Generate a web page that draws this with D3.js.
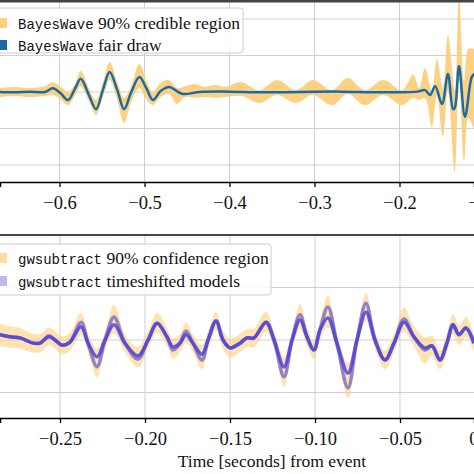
<!DOCTYPE html>
<html>
<head>
<meta charset="utf-8">
<script src="https://cdn.jsdelivr.net/npm/d3@7"></script>
<style>
  body { margin: 0; background: #fff; }
  svg { display: block; }
</style>
</head>
<body>
<svg width="474" height="474"></svg>
<script>
// Top panel: BayesWave reconstruction (time in seconds from event)
const bwTime = [-0.670, -0.652, -0.635, -0.617, -0.608, -0.599, -0.590, -0.582, -0.575, -0.566,
  -0.557, -0.549, -0.541, -0.532, -0.524, -0.516, -0.506, -0.498, -0.490, -0.481, -0.471,
  -0.456, -0.435, -0.399, -0.364, -0.317, -0.270, -0.223, -0.179, -0.170, -0.164, -0.158,
  -0.150, -0.143, -0.137, -0.135, -0.130, -0.123, -0.115, -0.112];
const bwDraw = [0, -0.01, 0.01, 0, 0.10, -0.03, -0.22, 0.08, 0.36, -0.05,
  -0.47, 0.05, 0.55, 0.05, -0.47, -0.03, 0.41, 0.11, -0.22, 0.03, 0.14,
  -0.05, 0, 0.01, -0.01, 0, 0.01, -0.01, 0.01, 0.05, -0.08, 0.16,
  -0.33, 0.49, -0.47, -0.44, 0.71, -0.68, 0.41, 0.49];

const bwBandTime = [-0.670, -0.652, -0.635, -0.617, -0.608, -0.599, -0.590, -0.582, -0.575, -0.566,
  -0.557, -0.549, -0.541, -0.532, -0.524, -0.516, -0.506, -0.498, -0.490, -0.481, -0.471,
  -0.462, -0.452, -0.441, -0.429, -0.417, -0.405, -0.386, -0.365, -0.344, -0.322, -0.302,
  -0.279, -0.261, -0.241, -0.219, -0.197, -0.184, -0.177, -0.170, -0.162, -0.156, -0.149,
  -0.143, -0.135, -0.130, -0.124, -0.119, -0.112];
const bwBandHi = [0.11, 0.14, 0.11, 0.16, 0.27, 0.16, 0.00, 0.22, 0.58, 0.14,
  -0.22, 0.25, 0.82, 0.27, -0.16, 0.16, 0.77, 0.33, 0.00, 0.25, 0.33,
  0.11, 0.16, 0.22, 0.14, 0.19, 0.14, 0.27, 0.05, 0.33, 0.05, 0.33,
  0.05, 0.38, 0.05, 0.33, 0.05, 0.47, 0.11, 0.66, 0.05, 0.90, 0.11,
  1.56, 0.05, 2.66, 0.33, 1.18, 1.18];
const bwBandLo = [-0.14, -0.11, -0.14, -0.11, -0.08, -0.19, -0.36, -0.11, 0.16, -0.22,
  -0.63, -0.14, 0.33, -0.22, -0.85, -0.30, 0.11, -0.19, -0.36, -0.14, -0.05,
  -0.33, -0.14, -0.16, -0.14, -0.16, -0.14, -0.11, -0.30, -0.08, -0.30, -0.08,
  -0.36, -0.05, -0.36, -0.08, -0.36, -0.16, -0.22, -0.16, -0.96, -0.08, -1.23,
  0.05, -2.19, 0.33, -1.89, -0.71, -1.04];

// Bottom panel: gwsubtract models
const gwTime = [-0.2853, -0.2794, -0.2735, -0.2659, -0.2618, -0.2565, -0.2529, -0.2488, -0.2441,
  -0.2376, -0.2335, -0.2282, -0.2235, -0.2182, -0.2118, -0.2041, -0.1982, -0.1929, -0.1871,
  -0.1835, -0.1794, -0.1759, -0.1718, -0.1665, -0.1629, -0.1582, -0.1541, -0.1500, -0.1441,
  -0.1400, -0.1359, -0.1288, -0.1241, -0.1182, -0.1135, -0.1088, -0.1047, -0.1006, -0.0971,
  -0.0924, -0.0871, -0.0806, -0.0753, -0.0700, -0.0647, -0.0588, -0.0535, -0.0476, -0.0418,
  -0.0353, -0.0312, -0.0265, -0.0224, -0.0188, -0.0153, -0.0112, -0.0065];
const gwModelA = [0.10, 0.06, 0.04, -0.06, -0.06, 0.06, 0, -0.10, -0.04,
  0.25, -0.06, -0.32, 0, 0.29, -0.06, -0.30, 0, 0.32, 0.06,
  -0.13, -0.06, 0.10, -0.06, -0.27, 0, 0.36, 0, -0.15, -0.06,
  0.04, 0.04, 0.34, 0, -0.51, 0, 0.38, 0.06, -0.19, 0.19,
  0.42, -0.06, -0.63, 0, 0.53, 0, -0.38, -0.06, 0.34, 0.06,
  -0.15, -0.11, -0.38, -0.06, 0.29, 0.10, 0.23, -0.06];
const gwModelB = [0.10, 0.06, 0.04, -0.06, -0.06, 0.08, 0, -0.10, -0.04,
  0.34, -0.06, -0.51, 0, 0.44, -0.06, -0.36, 0, 0.32, 0.06,
  -0.19, -0.06, 0.17, -0.06, -0.38, 0, 0.36, 0, -0.15, -0.06,
  0.04, 0.04, 0.34, 0, -0.70, 0, 0.48, 0.06, -0.19, 0.19,
  0.63, -0.06, -0.91, 0, 0.70, 0, -0.38, -0.06, 0.40, 0.06,
  -0.19, -0.11, -0.38, -0.06, 0.29, 0.10, 0.23, -0.06];
const gwBandHi = [0.31, 0.26, 0.23, 0.12, 0.11, 0.24, 0.17, 0.07, 0.14,
  0.52, 0.12, -0.16, 0.16, 0.67, 0.11, -0.13, 0.17, 0.52, 0.24,
  0.03, 0.11, 0.34, 0.11, -0.10, 0.17, 0.54, 0.17, 0.02, 0.12,
  0.21, 0.22, 0.54, 0.17, -0.33, 0.17, 0.68, 0.24, -0.02, 0.37,
  0.84, 0.11, -0.45, 0.17, 0.90, 0.17, -0.20, 0.12, 0.62, 0.26,
  0.05, 0.08, -0.20, 0.12, 0.50, 0.28, 0.44, 0.12];
const gwBandLo = [-0.12, -0.15, -0.16, -0.24, -0.24, -0.10, -0.16, -0.27, -0.20,
  0.09, -0.23, -0.71, -0.16, 0.12, -0.23, -0.52, -0.17, 0.14, -0.11,
  -0.36, -0.23, -0.06, -0.23, -0.56, -0.17, 0.18, -0.17, -0.33, -0.23,
  -0.13, -0.14, 0.15, -0.17, -0.90, -0.17, 0.20, -0.12, -0.36, 0.02,
  0.24, -0.23, -1.11, -0.17, 0.35, -0.17, -0.56, -0.24, 0.16, -0.12,
  -0.45, -0.30, -0.56, -0.24, 0.10, -0.10, 0.05, -0.24];

const topTicks = [-0.6, -0.5, -0.4, -0.3, -0.2, -0.1];
const bottomTicks = [-0.25, -0.20, -0.15, -0.10, -0.05, 0.00];
const topGrid = [-2, -1, 0, 1, 2];
const bottomGrid = [-1, 0, 1, 2];

const serif = "'Liberation Serif', 'Times New Roman', serif";
const mono = "'Liberation Mono', 'DejaVu Sans Mono', monospace";

const svg = d3.select("svg");
const W = 474;

const orange = "#fdcf7d";
const blue = "#1a6aa6";

function panel(cfg) {
  const g = svg.append("g");
  const x = d3.scaleLinear().domain(cfg.xDomain).range([0, W]);
  const y = d3.scaleLinear().domain(cfg.yDomain).range([cfg.bottom, cfg.top]);

  const clipId = "clip" + cfg.name;
  svg.append("clipPath").attr("id", clipId)
    .append("rect").attr("x", 0).attr("y", cfg.top).attr("width", W).attr("height", cfg.bottom - cfg.top);

  // grid
  g.selectAll(".vg").data(cfg.ticks).enter().append("line")
    .attr("x1", d => x(d)).attr("x2", d => x(d))
    .attr("y1", cfg.top).attr("y2", cfg.bottom)
    .attr("stroke", "#cfcfcf").attr("stroke-width", 1);
  g.selectAll(".hg").data(cfg.grid).enter().append("line")
    .attr("x1", 0).attr("x2", W)
    .attr("y1", d => y(d)).attr("y2", d => y(d))
    .attr("stroke", "#cfcfcf").attr("stroke-width", 1);

  const plot = g.append("g").attr("clip-path", `url(#${clipId})`);
  cfg.draw(plot, x, y);

  // spines
  g.append("line").attr("x1", 0).attr("x2", W).attr("y1", cfg.top).attr("y2", cfg.top)
    .attr("stroke", cfg.topColor).attr("stroke-width", cfg.topWidth);
  const axis = d3.axisBottom(x).tickValues(cfg.ticks).tickFormat(d3.format(cfg.fmt))
    .tickSize(5).tickPadding(9);
  const ax = g.append("g").attr("transform", `translate(0,${cfg.bottom})`).call(axis);
  ax.attr("font-family", serif);
  ax.select(".domain").attr("stroke", "#000").attr("stroke-width", 1.5);
  ax.selectAll(".tick line").attr("stroke", "#000").attr("stroke-width", 1.3);
  ax.selectAll(".tick text").attr("font-family", serif).attr("font-size", 18.5).attr("fill", "#111");

  // legend
  const lg = g.append("g");
  lg.append("rect").attr("x", -6).attr("y", cfg.legY).attr("width", cfg.legW + 6).attr("height", cfg.legH)
    .attr("rx", 3).attr("fill", "#fff").attr("fill-opacity", 0.85)
    .attr("stroke", "#cccccc").attr("stroke-width", 1);
  cfg.legend.forEach((item, i) => {
    const cy = cfg.legY + cfg.legFirst + i * cfg.legStep;
    lg.append("rect").attr("x", -3).attr("y", cy - 5).attr("width", 10).attr("height", 10)
      .attr("fill", item.color).attr("fill-opacity", item.alpha);
    const t = lg.append("text").attr("x", 18).attr("y", cy + 5.5).attr("fill", "#111");
    t.append("tspan").attr("font-family", mono).attr("font-size", 14).text(item.code);
    t.append("tspan").attr("font-family", serif).attr("font-size", 17.5).text(item.label);
  });
}

// Top panel
panel({
  name: "top", top: 1, bottom: 182,
  xDomain: [-0.67, -0.11235], yDomain: [-2.466, 2.493],
  ticks: topTicks, grid: topGrid, fmt: ".1f",
  topColor: "#444", topWidth: 3,
  legY: 8, legW: 243, legH: 45, legFirst: 15, legStep: 22,
  legend: [
    { color: orange, alpha: 1, code: "BayesWave", label: " 90% credible region" },
    { color: blue, alpha: 1, code: "BayesWave", label: " fair draw" }
  ],
  draw: (p, x, y) => {
    const band = bwBandTime.map((t, i) => ({ t, lo: bwBandLo[i], hi: bwBandHi[i] }));
    p.append("path").datum(band)
      .attr("d", d3.area().x(d => x(d.t)).y0(d => y(d.lo)).y1(d => y(d.hi)).curve(d3.curveCatmullRom))
      .attr("fill", orange).attr("fill-opacity", 0.95);
    const line = bwTime.map((t, i) => ({ t, v: bwDraw[i] }));
    p.append("path").datum(line)
      .attr("d", d3.line().x(d => x(d.t)).y(d => y(d.v)).curve(d3.curveCatmullRom))
      .attr("fill", "none").attr("stroke", blue).attr("stroke-width", 2.5);
  }
});

// Bottom panel
panel({
  name: "bot", top: 235, bottom: 418,
  xDomain: [-0.28529, -0.00647], yDomain: [-1.486, 2.0],
  ticks: bottomTicks, grid: bottomGrid, fmt: ".2f",
  topColor: "#111", topWidth: 1.5,
  legY: 244, legW: 271, legH: 51, legFirst: 14, legStep: 23,
  legend: [
    { color: orange, alpha: 0.75, code: "gwsubtract", label: " 90% confidence region" },
    { color: "#8f8cec", alpha: 0.6, code: "gwsubtract", label: " timeshifted models" }
  ],
  draw: (p, x, y) => {
    const band = gwTime.map((t, i) => ({ t, lo: gwBandLo[i], hi: gwBandHi[i] }));
    p.append("path").datum(band)
      .attr("d", d3.area().x(d => x(d.t)).y0(d => y(d.lo)).y1(d => y(d.hi)).curve(d3.curveCatmullRom))
      .attr("fill", orange).attr("fill-opacity", 0.6);
    const mk = arr => gwTime.map((t, i) => ({ t, v: arr[i] }));
    const lineGen = d3.line().x(d => x(d.t)).y(d => y(d.v)).curve(d3.curveCatmullRom);
    p.append("path").datum(mk(gwModelB)).attr("d", lineGen)
      .attr("fill", "none").attr("stroke", "#6f63c9").attr("stroke-width", 3.5).attr("stroke-opacity", 0.75);
    p.append("path").datum(mk(gwModelA)).attr("d", lineGen)
      .attr("fill", "none").attr("stroke", "#4a3ddb").attr("stroke-width", 3.5).attr("stroke-opacity", 0.8);
  }
});

svg.append("text").attr("x", 272).attr("y", 467).attr("text-anchor", "middle")
  .attr("font-family", serif).attr("font-size", 17.5).attr("fill", "#111")
  .text("Time [seconds] from event");
</script>
</body>
</html>
